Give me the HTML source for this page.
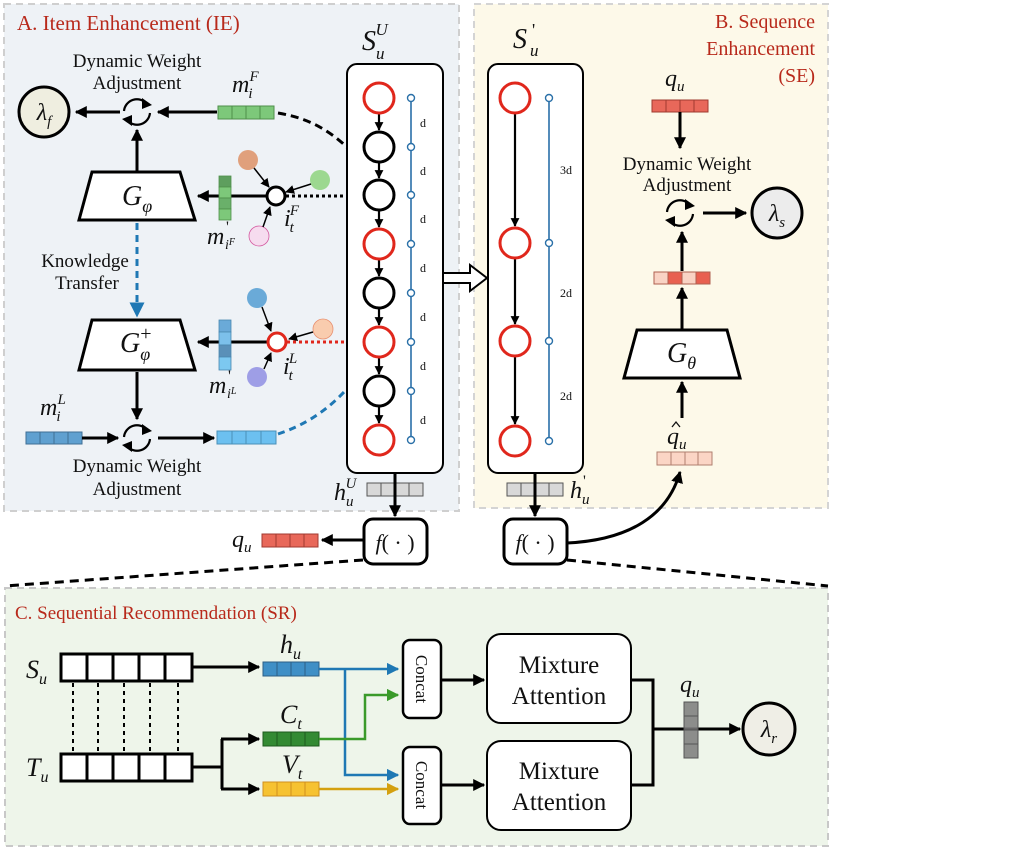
<!DOCTYPE html>
<html><head><meta charset="utf-8"><style>
html,body{margin:0;padding:0;background:#fff;}
svg{display:block;font-family:"Liberation Serif",serif;}
.t{font-size:19px;fill:#111;text-anchor:middle;}
.m{font-style:italic;fill:#111;}
.red{fill:#b8291b;}
</style></head><body>
<svg width="1020" height="851" viewBox="0 0 1020 851" xmlns="http://www.w3.org/2000/svg">
<defs>
<marker id="ab" viewBox="0 0 10 10" refX="9" refY="5" markerWidth="4" markerHeight="4" orient="auto-start-reverse"><path d="M0,0L10,5L0,10z" fill="#000"/></marker>
<marker id="as" viewBox="0 0 10 10" refX="9" refY="5" markerWidth="6" markerHeight="6" orient="auto"><path d="M0,0L10,5L0,10z" fill="#000"/></marker>
<marker id="abl" viewBox="0 0 10 10" refX="9" refY="5" markerWidth="5" markerHeight="5" orient="auto"><path d="M0,0L10,5L0,10z" fill="#1f78b4"/></marker>
<marker id="agr" viewBox="0 0 10 10" refX="9" refY="5" markerWidth="5" markerHeight="5" orient="auto"><path d="M0,0L10,5L0,10z" fill="#3a9a2a"/></marker>
<marker id="aor" viewBox="0 0 10 10" refX="9" refY="5" markerWidth="5" markerHeight="5" orient="auto"><path d="M0,0L10,5L0,10z" fill="#d4a010"/></marker>
<symbol id="sync" viewBox="-16 -16 32 32" overflow="visible">
<g fill="none" stroke="#000" stroke-width="2.2"><path d="M-13,-1 A13,13 0 0 1 10,-8"/><path d="M13,1 A13,13 0 0 1 -10,8"/></g>
<path d="M5,-14 L15,-7 L5,-3z M-5,14 L-15,7 L-5,3z" fill="#000"/>
</symbol>
</defs>

<rect x="4" y="4" width="455" height="507" fill="#eef2f6" stroke="#cfcfcf" stroke-width="2" stroke-dasharray="7,5"/>
<rect x="474" y="4" width="354" height="504" fill="#fdf9e9" stroke="#d4d4d4" stroke-width="2" stroke-dasharray="7,5"/>
<rect x="5" y="588" width="823" height="258" fill="#eef5ea" stroke="#c8c8c8" stroke-width="2" stroke-dasharray="7,5"/>

<text x="17" y="30" font-size="21" class="red">A. Item Enhancement (IE)</text>
<text x="815" y="28" font-size="20" class="red" text-anchor="end">B. Sequence</text>
<text x="815" y="55" font-size="20" class="red" text-anchor="end">Enhancement</text>
<text x="815" y="82" font-size="20" class="red" text-anchor="end">(SE)</text>
<text x="15" y="619" font-size="19" class="red">C. Sequential Recommendation (SR)</text>

<line x1="363" y1="560" x2="5" y2="586" stroke="#000" stroke-width="3" stroke-dasharray="9,6"/>
<line x1="567" y1="560" x2="828" y2="586" stroke="#000" stroke-width="3" stroke-dasharray="9,6"/>

<!-- Panel A -->
<text class="t" x="137" y="67">Dynamic Weight</text>
<text class="t" x="137" y="89">Adjustment</text>
<circle cx="44" cy="112" r="25" fill="#efeee0" stroke="#000" stroke-width="3"/>
<text x="44" y="120" font-size="24" class="m" text-anchor="middle">λ<tspan font-size="15" dy="6">f</tspan></text>
<use href="#sync" x="121" y="96" width="32" height="32"/>
<line x1="120" y1="112" x2="76" y2="112" stroke="#000" stroke-width="3" marker-end="url(#ab)"/>
<line x1="217" y1="112" x2="158" y2="112" stroke="#000" stroke-width="3" marker-end="url(#ab)"/>
<g stroke="#4e8f4a" stroke-width="1" fill="#7dc87a"><rect x="218" y="106" width="14" height="13"/><rect x="232" y="106" width="14" height="13"/><rect x="246" y="106" width="14" height="13"/><rect x="260" y="106" width="14" height="13"/></g>
<text x="232" y="92" font-size="24" class="m">m<tspan font-size="15" dx="-1" dy="6">i</tspan><tspan font-size="15" dx="-3" dy="-17">F</tspan></text>
<path d="M278,113 C320,120 345,140 377,181" fill="none" stroke="#000" stroke-width="3" stroke-dasharray="8,5"/>

<line x1="137" y1="172" x2="137" y2="130" stroke="#000" stroke-width="3" marker-end="url(#ab)"/>
<path d="M92,172 L180,172 L195,220 L79,220z" fill="#fff" stroke="#000" stroke-width="3"/>
<text x="122" y="205" font-size="28" class="m">G<tspan font-size="18" dy="7">φ</tspan></text>
<line x1="268" y1="196" x2="198" y2="196" stroke="#000" stroke-width="3" marker-end="url(#ab)"/>
<g stroke="#4e8f4a" stroke-width="0.8"><rect x="219" y="176" width="12" height="11" fill="#5e9e5e"/><rect x="219" y="187" width="12" height="11" fill="#7dc87a"/><rect x="219" y="198" width="12" height="11" fill="#6ab06a"/><rect x="219" y="209" width="12" height="11" fill="#7dc87a"/></g>
<circle cx="248" cy="160" r="10" fill="#e0a07c"/>
<circle cx="320" cy="180" r="10" fill="#9cd890"/>
<circle cx="259" cy="236" r="10" fill="#f6dcef" stroke="#d45aa0" stroke-width="0.8"/>
<line x1="254" y1="168" x2="269" y2="187" stroke="#000" stroke-width="1.5" marker-end="url(#as)"/>
<line x1="311" y1="184" x2="286" y2="192" stroke="#000" stroke-width="1.5" marker-end="url(#as)"/>
<line x1="263" y1="227" x2="270" y2="207" stroke="#000" stroke-width="1.5" marker-end="url(#as)"/>
<circle cx="276" cy="196" r="9" fill="#fff" stroke="#000" stroke-width="3"/>
<line x1="286" y1="196" x2="363" y2="196" stroke="#000" stroke-width="3" stroke-dasharray="3,3"/>
<text x="207" y="244" font-size="24" class="m">m</text><text x="226" y="232" font-size="16" fill="#111">'</text><text x="225" y="249" font-size="14" class="m">i<tspan font-size="10" dy="-4">F</tspan></text>
<text x="284" y="226" font-size="24" class="m">i<tspan font-size="15" dx="-1" dy="6">t</tspan><tspan font-size="15" dx="-4" dy="-17">F</tspan></text>

<text class="t" x="85" y="267">Knowledge</text>
<text class="t" x="87" y="289">Transfer</text>
<line x1="137" y1="223" x2="137" y2="316" stroke="#1f78b4" stroke-width="3" stroke-dasharray="7,5" marker-end="url(#abl)"/>

<path d="M92,320 L180,320 L195,370 L79,370z" fill="#fff" stroke="#000" stroke-width="3"/>
<text x="120" y="352" font-size="28" class="m">G<tspan font-size="18" dy="8">φ</tspan><tspan font-size="20" dx="-10" dy="-20" font-style="normal">+</tspan></text>
<line x1="268" y1="342" x2="198" y2="342" stroke="#000" stroke-width="3" marker-end="url(#ab)"/>
<g stroke="#4a88b0" stroke-width="0.8"><rect x="219" y="320" width="12" height="12" fill="#6aaad8"/><rect x="219" y="332" width="12" height="13" fill="#7cc0ea"/><rect x="219" y="345" width="12" height="12" fill="#5a90b8"/><rect x="219" y="357" width="12" height="13" fill="#7cc8f0"/></g>
<circle cx="257" cy="298" r="10" fill="#6aaad8"/>
<circle cx="323" cy="329" r="10" fill="#f9ccae" stroke="#e89070" stroke-width="0.8"/>
<circle cx="257" cy="377" r="10" fill="#9e9ee6"/>
<line x1="262" y1="307" x2="271" y2="331" stroke="#000" stroke-width="1.5" marker-end="url(#as)"/>
<line x1="313" y1="332" x2="289" y2="339" stroke="#000" stroke-width="1.5" marker-end="url(#as)"/>
<line x1="264" y1="369" x2="271" y2="353" stroke="#000" stroke-width="1.5" marker-end="url(#as)"/>
<circle cx="277" cy="342" r="9" fill="#fff" stroke="#e0271c" stroke-width="3"/>
<line x1="287" y1="342" x2="363" y2="342" stroke="#e0271c" stroke-width="3" stroke-dasharray="3,3"/>
<text x="209" y="393" font-size="24" class="m">m</text><text x="228" y="381" font-size="16" fill="#111">'</text><text x="227" y="398" font-size="14" class="m">i<tspan font-size="10" dy="-4">L</tspan></text>
<text x="283" y="374" font-size="24" class="m">i<tspan font-size="15" dx="-1" dy="6">t</tspan><tspan font-size="15" dx="-4" dy="-17">L</tspan></text>

<line x1="137" y1="372" x2="137" y2="419" stroke="#000" stroke-width="3" marker-end="url(#ab)"/>
<use href="#sync" x="121" y="422" width="32" height="32"/>
<text class="t" x="137" y="472">Dynamic Weight</text>
<text class="t" x="137" y="495">Adjustment</text>
<g stroke="#3f6f95" stroke-width="1" fill="#5fa0d0"><rect x="26" y="432" width="14" height="12"/><rect x="40" y="432" width="14" height="12"/><rect x="54" y="432" width="14" height="12"/><rect x="68" y="432" width="14" height="12"/></g>
<text x="40" y="415" font-size="24" class="m">m<tspan font-size="15" dx="-1" dy="6">i</tspan><tspan font-size="15" dx="-3" dy="-17">L</tspan></text>
<line x1="82" y1="438" x2="118" y2="438" stroke="#000" stroke-width="3" marker-end="url(#ab)"/>
<line x1="158" y1="438" x2="214" y2="438" stroke="#000" stroke-width="3" marker-end="url(#ab)"/>
<g stroke="#4a90b8" stroke-width="1" fill="#6cc0f0"><rect x="217" y="431" width="15" height="13"/><rect x="232" y="431" width="14" height="13"/><rect x="246" y="431" width="15" height="13"/><rect x="261" y="431" width="15" height="13"/></g>
<path d="M278,434 C320,420 345,395 368,362" fill="none" stroke="#1f78b4" stroke-width="3" stroke-dasharray="7,5" marker-end="url(#abl)"/>

<text x="362" y="50" font-size="28" class="m">S<tspan font-size="17" dy="9">u</tspan><tspan font-size="17" dx="-9" dy="-24">U</tspan></text>
<rect x="347" y="64" width="96" height="409" rx="10" fill="#fff" stroke="#000" stroke-width="2"/>
<line x1="411" y1="98" x2="411" y2="440" stroke="#2a70a8" stroke-width="1.6"/>
<g fill="#fff" stroke="#2a70a8" stroke-width="1.4">
<circle cx="411" cy="98" r="3.5"/><circle cx="411" cy="147" r="3.5"/><circle cx="411" cy="195" r="3.5"/><circle cx="411" cy="244" r="3.5"/><circle cx="411" cy="293" r="3.5"/><circle cx="411" cy="342" r="3.5"/><circle cx="411" cy="391" r="3.5"/><circle cx="411" cy="440" r="3.5"/></g>
<g font-size="12" fill="#111"><text x="420" y="127">d</text><text x="420" y="175">d</text><text x="420" y="223">d</text><text x="420" y="272">d</text><text x="420" y="321">d</text><text x="420" y="370">d</text><text x="420" y="424">d</text></g>
<g stroke="#000" stroke-width="2.2">
<line x1="379" y1="113" x2="379" y2="130" marker-end="url(#ab)"/><line x1="379" y1="162" x2="379" y2="178" marker-end="url(#ab)"/><line x1="379" y1="210" x2="379" y2="227" marker-end="url(#ab)"/><line x1="379" y1="259" x2="379" y2="276" marker-end="url(#ab)"/><line x1="379" y1="308" x2="379" y2="325" marker-end="url(#ab)"/><line x1="379" y1="357" x2="379" y2="374" marker-end="url(#ab)"/><line x1="379" y1="406" x2="379" y2="423" marker-end="url(#ab)"/></g>
<g fill="#fff" stroke-width="3">
<circle cx="379" cy="98" r="15" stroke="#e0271c"/><circle cx="379" cy="147" r="15" stroke="#000"/><circle cx="379" cy="195" r="15" stroke="#000"/><circle cx="379" cy="244" r="15" stroke="#e0271c"/><circle cx="379" cy="293" r="15" stroke="#000"/><circle cx="379" cy="342" r="15" stroke="#e0271c"/><circle cx="379" cy="391" r="15" stroke="#000"/><circle cx="379" cy="440" r="15" stroke="#e0271c"/></g>

<path d="M443,273 L470,273 L470,265 L487,278 L470,291 L470,283 L443,283z" fill="#fff" stroke="#000" stroke-width="2"/>

<g stroke="#555" stroke-width="1" fill="#d8d8d8"><rect x="367" y="483" width="14" height="13"/><rect x="381" y="483" width="14" height="13"/><rect x="395" y="483" width="14" height="13"/><rect x="409" y="483" width="14" height="13"/></g>
<text x="334" y="500" font-size="24" class="m">h<tspan font-size="15" dy="6">u</tspan><tspan font-size="15" dx="-8" dy="-18">U</tspan></text>
<line x1="395" y1="473" x2="395" y2="516" stroke="#000" stroke-width="3" marker-end="url(#ab)"/>
<rect x="364" y="519" width="63" height="45" rx="9" fill="#fff" stroke="#000" stroke-width="3"/>
<text x="395" y="550" font-size="22" text-anchor="middle" fill="#111"><tspan font-style="italic">f</tspan>( · )</text>
<line x1="363" y1="540" x2="322" y2="540" stroke="#000" stroke-width="3" marker-end="url(#ab)"/>
<g stroke="#a03a30" stroke-width="1" fill="#e8685a"><rect x="262" y="534" width="14" height="13"/><rect x="276" y="534" width="14" height="13"/><rect x="290" y="534" width="14" height="13"/><rect x="304" y="534" width="14" height="13"/></g>
<text x="232" y="547" font-size="24" class="m">q<tspan font-size="15" dy="5">u</tspan></text>

<!-- Panel B -->
<text x="513" y="48" font-size="28" class="m">S</text><text x="532" y="36" font-size="18" fill="#111">'</text><text x="530" y="56" font-size="17" class="m">u</text>
<rect x="488" y="64" width="95" height="409" rx="10" fill="#fff" stroke="#000" stroke-width="2"/>
<line x1="549" y1="98" x2="549" y2="441" stroke="#2a70a8" stroke-width="1.6"/>
<g fill="#fff" stroke="#2a70a8" stroke-width="1.4"><circle cx="549" cy="98" r="3.5"/><circle cx="549" cy="243" r="3.5"/><circle cx="549" cy="341" r="3.5"/><circle cx="549" cy="441" r="3.5"/></g>
<g font-size="12" fill="#111"><text x="560" y="174">3d</text><text x="560" y="297">2d</text><text x="560" y="400">2d</text></g>
<g stroke="#000" stroke-width="2.2"><line x1="515" y1="113" x2="515" y2="226" marker-end="url(#ab)"/><line x1="515" y1="258" x2="515" y2="324" marker-end="url(#ab)"/><line x1="515" y1="356" x2="515" y2="424" marker-end="url(#ab)"/></g>
<g fill="#fff" stroke="#e0271c" stroke-width="3"><circle cx="515" cy="98" r="15"/><circle cx="515" cy="243" r="15"/><circle cx="515" cy="341" r="15"/><circle cx="515" cy="441" r="15"/></g>
<g stroke="#555" stroke-width="1" fill="#d8d8d8"><rect x="507" y="483" width="14" height="13"/><rect x="521" y="483" width="14" height="13"/><rect x="535" y="483" width="14" height="13"/><rect x="549" y="483" width="14" height="13"/></g>
<text x="570" y="498" font-size="24" class="m">h</text><text x="583" y="486" font-size="16" fill="#111">'</text><text x="582" y="504" font-size="15" class="m">u</text>
<line x1="535" y1="473" x2="535" y2="516" stroke="#000" stroke-width="3" marker-end="url(#ab)"/>
<rect x="504" y="519" width="63" height="45" rx="9" fill="#fff" stroke="#000" stroke-width="3"/>
<text x="535" y="550" font-size="22" text-anchor="middle" fill="#111"><tspan font-style="italic">f</tspan>( · )</text>
<path d="M567,543 C630,540 668,515 680,472" fill="none" stroke="#000" stroke-width="3" marker-end="url(#ab)"/>

<text x="665" y="86" font-size="24" class="m">q<tspan font-size="15" dy="5">u</tspan></text>
<g stroke="#a03a30" stroke-width="1" fill="#e8685a"><rect x="652" y="100" width="14" height="12"/><rect x="666" y="100" width="14" height="12"/><rect x="680" y="100" width="14" height="12"/><rect x="694" y="100" width="14" height="12"/></g>
<line x1="680" y1="112" x2="680" y2="148" stroke="#000" stroke-width="3" marker-end="url(#ab)"/>
<text class="t" x="687" y="170">Dynamic Weight</text>
<text class="t" x="687" y="191">Adjustment</text>
<use href="#sync" x="664" y="197" width="32" height="32"/>
<line x1="703" y1="213" x2="746" y2="213" stroke="#000" stroke-width="3" marker-end="url(#ab)"/>
<circle cx="777" cy="213" r="25" fill="#ececec" stroke="#000" stroke-width="3"/>
<text x="777" y="221" font-size="24" class="m" text-anchor="middle">λ<tspan font-size="15" dy="6">s</tspan></text>
<line x1="682" y1="271" x2="682" y2="232" stroke="#000" stroke-width="3" marker-end="url(#ab)"/>
<g stroke="#b06050" stroke-width="1"><rect x="654" y="272" width="14" height="12" fill="#f9d3c4"/><rect x="668" y="272" width="14" height="12" fill="#e86050"/><rect x="682" y="272" width="14" height="12" fill="#f9d3c4"/><rect x="696" y="272" width="14" height="12" fill="#e86050"/></g>
<line x1="682" y1="330" x2="682" y2="288" stroke="#000" stroke-width="3" marker-end="url(#ab)"/>
<path d="M637,330 L727,330 L740,378 L624,378z" fill="#fff" stroke="#000" stroke-width="3"/>
<text x="667" y="362" font-size="28" class="m">G<tspan font-size="18" dy="7">θ</tspan></text>
<line x1="682" y1="418" x2="682" y2="382" stroke="#000" stroke-width="3" marker-end="url(#ab)"/>
<text x="667" y="444" font-size="24" class="m">q<tspan font-size="15" dy="5">u</tspan></text>
<path d="M672,427 L676,422 L680,427" fill="none" stroke="#111" stroke-width="1.3"/>
<g stroke="#b08070" stroke-width="1" fill="#fbd5c5"><rect x="657" y="452" width="14" height="13"/><rect x="671" y="452" width="14" height="13"/><rect x="685" y="452" width="13" height="13"/><rect x="698" y="452" width="14" height="13"/></g>

<!-- Panel C -->
<text x="26" y="678" font-size="26" class="m">S<tspan font-size="16" dy="6">u</tspan></text>
<text x="26" y="776" font-size="26" class="m">T<tspan font-size="16" dy="6">u</tspan></text>
<g fill="#fff" stroke="#000" stroke-width="3">
<rect x="61" y="654" width="26" height="27"/><rect x="87" y="654" width="26" height="27"/><rect x="113" y="654" width="26" height="27"/><rect x="139" y="654" width="26" height="27"/><rect x="165" y="654" width="27" height="27"/>
<rect x="61" y="754" width="26" height="27"/><rect x="87" y="754" width="26" height="27"/><rect x="113" y="754" width="26" height="27"/><rect x="139" y="754" width="26" height="27"/><rect x="165" y="754" width="27" height="27"/></g>
<g stroke="#000" stroke-width="2" stroke-dasharray="4,4"><line x1="73" y1="683" x2="73" y2="752"/><line x1="98" y1="683" x2="98" y2="752"/><line x1="124" y1="683" x2="124" y2="752"/><line x1="150" y1="683" x2="150" y2="752"/><line x1="178" y1="683" x2="178" y2="752"/></g>
<line x1="193" y1="667" x2="259" y2="667" stroke="#000" stroke-width="3" marker-end="url(#ab)"/>
<path d="M193,767 L222,767" stroke="#000" stroke-width="3"/>
<path d="M222,739 L222,789" stroke="#000" stroke-width="3" fill="none"/>
<line x1="221" y1="739" x2="259" y2="739" stroke="#000" stroke-width="3" marker-end="url(#ab)"/>
<line x1="221" y1="789" x2="259" y2="789" stroke="#000" stroke-width="3" marker-end="url(#ab)"/>
<g stroke="#2c5f85" stroke-width="1" fill="#3f8fc6"><rect x="263" y="662" width="14" height="14"/><rect x="277" y="662" width="14" height="14"/><rect x="291" y="662" width="14" height="14"/><rect x="305" y="662" width="14" height="14"/></g>
<g stroke="#1e5a1e" stroke-width="1" fill="#338a33"><rect x="263" y="732" width="14" height="14"/><rect x="277" y="732" width="14" height="14"/><rect x="291" y="732" width="14" height="14"/><rect x="305" y="732" width="14" height="14"/></g>
<g stroke="#d09020" stroke-width="1" fill="#f6c232"><rect x="263" y="782" width="14" height="14"/><rect x="277" y="782" width="14" height="14"/><rect x="291" y="782" width="14" height="14"/><rect x="305" y="782" width="14" height="14"/></g>
<text x="280" y="653" font-size="26" class="m">h<tspan font-size="16" dy="6">u</tspan></text>
<text x="280" y="723" font-size="26" class="m">C<tspan font-size="16" dy="6">t</tspan></text>
<text x="282" y="773" font-size="26" class="m">V<tspan font-size="16" dy="6">t</tspan></text>
<path d="M319,669 L398,669" stroke="#1f78b4" stroke-width="2.5" fill="none" marker-end="url(#abl)"/>
<path d="M345,669 L345,775 L398,775" stroke="#1f78b4" stroke-width="2.5" fill="none" marker-end="url(#abl)"/>
<path d="M319,739 L365,739 L365,695 L398,695" stroke="#3a9a2a" stroke-width="2.5" fill="none" marker-end="url(#agr)"/>
<path d="M319,789 L398,789" stroke="#d4a010" stroke-width="2.5" fill="none" marker-end="url(#aor)"/>
<rect x="403" y="640" width="38" height="78" rx="7" fill="#fff" stroke="#000" stroke-width="2.5"/>
<rect x="403" y="747" width="38" height="77" rx="7" fill="#fff" stroke="#000" stroke-width="2.5"/>
<text transform="translate(416,679) rotate(90)" font-size="17" text-anchor="middle" fill="#111">Concat</text>
<text transform="translate(416,785) rotate(90)" font-size="17" text-anchor="middle" fill="#111">Concat</text>
<line x1="441" y1="680" x2="484" y2="680" stroke="#000" stroke-width="3" marker-end="url(#ab)"/>
<line x1="441" y1="785" x2="484" y2="785" stroke="#000" stroke-width="3" marker-end="url(#ab)"/>
<rect x="487" y="634" width="144" height="89" rx="14" fill="#fff" stroke="#000" stroke-width="2"/>
<rect x="487" y="741" width="144" height="89" rx="14" fill="#fff" stroke="#000" stroke-width="2"/>
<g font-size="25" text-anchor="middle" fill="#111"><text x="559" y="673">Mixture</text><text x="559" y="704">Attention</text><text x="559" y="779">Mixture</text><text x="559" y="810">Attention</text></g>
<path d="M631,680 L653,680 L653,785 L631,785" stroke="#000" stroke-width="3" fill="none"/>
<line x1="653" y1="729" x2="740" y2="729" stroke="#000" stroke-width="3" marker-end="url(#ab)"/>
<g stroke="#555" stroke-width="1" fill="#7a7a7a" fill-opacity="0.85"><rect x="684" y="702" width="14" height="14"/><rect x="684" y="716" width="14" height="14"/><rect x="684" y="730" width="14" height="14"/><rect x="684" y="744" width="14" height="14"/></g>
<text x="680" y="692" font-size="24" class="m">q<tspan font-size="15" dy="5">u</tspan></text>
<circle cx="769" cy="729" r="26" fill="#efeee6" stroke="#000" stroke-width="3"/>
<text x="769" y="737" font-size="24" class="m" text-anchor="middle">λ<tspan font-size="15" dy="6">r</tspan></text>
</svg>
</body></html>
